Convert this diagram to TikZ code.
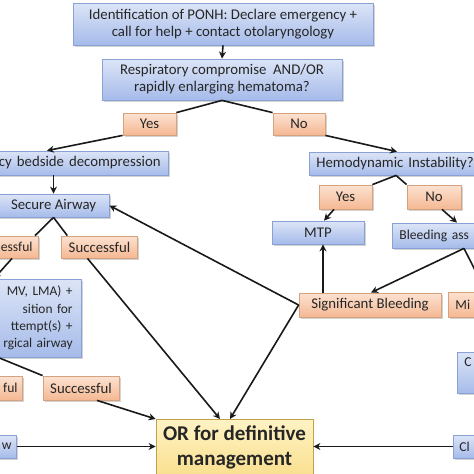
\documentclass[tikz,border=0pt]{standalone}
\usepackage{fontspec}
\setmainfont{Carlito}
\usetikzlibrary{arrows.meta,shadows}

\definecolor{boxBlueTop}{HTML}{DCE5F7}
\definecolor{boxBlueBot}{HTML}{A6BBEA}
\definecolor{boxBlueLine}{HTML}{8AA1D6}
\definecolor{boxPeachTop}{HTML}{FCE2D2}
\definecolor{boxPeachBot}{HTML}{F5B892}
\definecolor{boxPeachLine}{HTML}{D4A27F}
\definecolor{boxGoldTop}{HTML}{FFF3C4}
\definecolor{boxGoldBot}{HTML}{F5D26A}
\definecolor{boxGoldLine}{HTML}{C2A04C}

\tikzset{
  boxBase/.style={rectangle, line width=0.8pt, inner sep=0pt, inner xsep=7pt,
    font=\fontsize{14.8}{17}\selectfont, text=black!85,
    drop shadow={shadow xshift=1.5pt, shadow yshift=-1.5pt, opacity=0.35}},
  blueBox/.style={boxBase, draw=boxBlueLine, top color=boxBlueTop, bottom color=boxBlueBot},
  peachBox/.style={boxBase, draw=boxPeachLine, top color=boxPeachTop, bottom color=boxPeachBot},
  goldBox/.style={boxBase, draw=boxGoldLine, top color=boxGoldTop, bottom color=boxGoldBot,
    font=\bfseries\fontsize{21}{25}\selectfont, inner ysep=6pt},
  cutLeft/.style={anchor=east, text width=200pt, align=right},
  cutRight/.style={anchor=west, text width=200pt, align=left},
  cutFont/.style={font=\fontsize{13.6}{17}\selectfont},
  link/.style={line width=1.6pt, black!90},
  arrowLink/.style={link, -{Stealth[length=7pt,width=7pt]}}
}

\begin{document}
\begin{tikzpicture}[x=1pt,y=-1pt]
\useasboundingbox (0,0) rectangle (474,474);
\clip (0,0) rectangle (474,474);

% Top of the chart
\node[blueBox, minimum width=300pt, minimum height=42pt, align=center] (ident) at (223,24)
  {Identification of PONH: Declare emergency +\\call for help + contact otolaryngology};
\node[blueBox, minimum width=240pt, minimum height=41pt, align=center] (resp) at (222,79.5)
  {Respiratory compromise\ \ AND/OR\\rapidly enlarging hematoma?};

% First answers
\node[peachBox, minimum width=53pt, minimum height=22pt] (yesL) at (149.5,124) {Yes};
\node[peachBox, minimum width=52pt, minimum height=22pt] (noL) at (299,124) {No};

% Left branch
\node[blueBox, cutLeft, minimum height=24pt, inner xsep=8pt] (decomp) at (169,163) {cy bedside decompression};
\node[blueBox, minimum width=111pt, minimum height=23pt] (secure) at (53.5,205.5) {Secure Airway};
\node[peachBox, cutLeft, cutFont, minimum height=22pt, inner xsep=6pt] (unsuccA) at (39,247) {essful};
\node[peachBox, minimum width=75pt, minimum height=22pt] (succA) at (99.5,247) {Successful};
\node[blueBox, cutLeft, minimum height=78pt, inner xsep=9pt, text width=160pt,
  font=\fontsize{13.4}{17.3}\selectfont] (bmv) at (82,318)
  {MV, LMA) +\hspace*{7pt}\\sition for\hspace*{18pt}\\ttempt(s) +\hspace*{5pt}\\rgical airway};
\node[peachBox, cutLeft, cutFont, minimum height=24pt, inner xsep=5pt] (unsuccB) at (23,388) {ful};
\node[peachBox, minimum width=76pt, minimum height=24pt] (succB) at (81,388) {Successful};
\node[blueBox, cutLeft, cutFont, minimum height=23pt, inner xsep=5pt] (secureB) at (17,446.5) {w};

% Right branch
\node[blueBox, cutRight, minimum height=23pt] (hemo) at (309,163.5) {Hemodynamic Instability?};
\node[peachBox, minimum width=53pt, minimum height=24pt] (yesR) at (345.5,197) {Yes};
\node[peachBox, minimum width=54pt, minimum height=24pt] (noR) at (434,197) {No};
\node[blueBox, minimum width=92pt, minimum height=23pt] (mtp) at (318,232.5) {MTP};
\node[blueBox, cutRight, cutFont, minimum height=25pt, inner xsep=7pt] (bleed) at (392,235.5) {Bleeding ass};
\node[peachBox, minimum width=142pt, minimum height=24pt] (sigBleed) at (370,305) {Significant Bleeding};
\node[peachBox, cutRight, cutFont, minimum height=25pt, inner xsep=7pt] (minor) at (448,304.5) {Mi};
\node[blueBox, cutFont, anchor=north west, text width=100pt, align=left, minimum height=41pt,
  inner ysep=3pt] (cons) at (457,352) {C\\\strut};
\node[blueBox, cutRight, cutFont, minimum height=23pt, inner xsep=6pt] (clBox) at (453,446.5) {Cl};

% Goal
\node[goldBox, minimum width=155pt, anchor=north, align=center,
  text depth=44pt] (orBox) at (234.5,419) {OR for definitive\\management};

% Connectors, top
\draw[arrowLink] (ident.south) -- (resp.north);
\draw[link] (resp.south) -- (yesL.north east);
\draw[link] (resp.south) -- (noL.north west);
\draw[arrowLink] (yesL.south west) -- ([xshift=-122pt]decomp.north east);
\draw[arrowLink] (noL.south east) -- ([xshift=88pt]hemo.north west);

% Connectors, left
\draw[arrowLink] (secure.north |- decomp.south) -- (secure.north);
\draw[link] (secure.south) -- ([xshift=-4pt]unsuccA.north east);
\draw[link] (secure.south) -- ([xshift=6pt]succA.north west);
\draw[arrowLink] ([xshift=-27pt]unsuccA.south east) -- ([xshift=-88pt]bmv.north east);
\draw[arrowLink] ([xshift=-12pt]succA.south) -- ([xshift=-14.5pt]orBox.north);
\draw[link] ([xshift=-84pt]bmv.south east) -- (succB.north west);
\draw[arrowLink] ([xshift=16pt]succB.south) -- (orBox.north west);
\draw[arrowLink] (secureB.east) -- (secureB.east -| orBox.west);

% Connectors, right
\draw[link] ([xshift=87pt]hemo.south west) -- (yesR.north east);
\draw[link] ([xshift=87pt]hemo.south west) -- (noR.north west);
\draw[arrowLink] ([xshift=-11.5pt]yesR.south) -- ([xshift=6pt]mtp.north);
\draw[arrowLink] ([xshift=8pt]noR.south) -- ([xshift=65pt]bleed.north west);
\draw[arrowLink] ([xshift=72pt]bleed.south west) -- ([xshift=1pt]sigBleed.north);
\draw[arrowLink] ([xshift=72pt]bleed.south west) -- ([xshift=38pt]minor.north west);
\draw[arrowLink] ([xshift=5pt]mtp.south |- sigBleed.north) -- ([xshift=5pt]mtp.south);
\draw[arrowLink] (sigBleed.west) -- (secure.east);
\draw[arrowLink] (sigBleed.west) -- ([xshift=-4.5pt]orBox.north);
\draw[arrowLink] (clBox.west) -- (clBox.west -| orBox.east);
\end{tikzpicture}
\end{document}
